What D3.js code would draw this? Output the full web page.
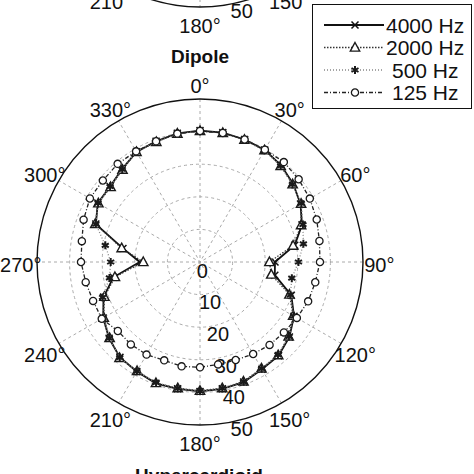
<!DOCTYPE html>
<html>
<head>
<meta charset="UTF-8">
<title>Dipole polar response</title>
<script src="https://cdn.jsdelivr.net/npm/d3@7/dist/d3.min.js"></script>
<style>
  body { margin: 0; background: #fff; }
  text { font-family: "Liberation Sans", Arial, sans-serif; fill: #111; }
</style>
</head>
<body>
<svg id="chart" width="474" height="474"></svg>
<script>
// angles in degrees, clockwise from the top
var angles = [0,10,20,30,40,50,60,70,80,90,100,110,120,130,140,150,160,170,
              180,190,200,210,220,230,240,250,260,270,280,290,300,310,320,330,340,350]
var hz4000 = [40.3,40.3,40.0,39.7,38.7,37.3,35.6,33.3,29.5,23.0,23.3,29.8,33.3,35.8,37.5,38.0,39.2,39.5,
              39.7,39.5,39.6,38.8,38.2,36.4,34.3,31.5,27.0,18.5,24.0,34.0,36.2,36.0,37.2,39.0,39.4,40.1]
var hz2000 = [40.2,40.2,39.9,39.6,38.5,37.1,35.8,33.0,29.0,21.3,22.2,29.2,33.0,35.5,37.3,37.7,39.0,39.3,
              39.5,39.3,39.5,38.6,38.4,36.2,34.1,31.2,26.5,17.4,24.4,34.2,36.0,35.8,37.0,39.0,39.2,40.0]
var hz500  = [40.1,40.2,39.8,39.5,38.5,37.0,35.9,33.6,32.2,30.2,28.6,29.5,33.2,35.6,37.2,37.8,39.1,39.4,
              39.6,39.4,39.4,38.7,38.3,36.3,34.4,31.8,28.2,27.4,29.5,34.0,36.1,36.0,37.1,39.1,39.3,40.0]
var hz125  = [40.2,40.2,40.0,39.8,40.0,39.5,38.9,38.1,37.2,36.8,35.9,35.3,34.3,33.6,33.2,32.6,32.0,31.9,
              32.3,32.5,32.1,32.8,33.0,32.9,34.8,34.9,35.6,36.5,36.8,38.0,39.0,38.9,39.3,39.2,39.4,40.0]
var seriesNames = ["4000 Hz", "2000 Hz", "500 Hz", "125 Hz"]
var radialTicks = [0,10,20,30,40,50]
var angleTicks = [0,30,60,90,120,150,180,210,240,270,300,330]

var svg = d3.select("#chart")
var R = 163
var r = d3.scaleLinear().domain([0, 50]).range([0, R])
var rad = function (deg) { return deg * Math.PI / 180 }
function px(deg, v) { return r(v) * Math.sin(rad(deg)) }
function py(deg, v) { return -r(v) * Math.cos(rad(deg)) }

// grid, outer circle and tick labels; keep() filters labels that would fall off the page
function drawFrame(g, keepAngle, keepRadial) {
  g.selectAll(".ring").data(radialTicks.slice(1, -1)).enter().append("circle")
    .attr("r", function (d) { return r(d) })
    .attr("fill", "none").attr("stroke", "#aaa").attr("stroke-dasharray", "3,3")
  g.selectAll(".spoke").data(angleTicks.slice(0, 6)).enter().append("line")
    .attr("x1", function (d) { return px(d, 50) }).attr("y1", function (d) { return py(d, 50) })
    .attr("x2", function (d) { return px(d + 180, 50) }).attr("y2", function (d) { return py(d + 180, 50) })
    .attr("stroke", "#aaa").attr("stroke-dasharray", "3,3")
  g.append("circle").attr("r", R).attr("fill", "none").attr("stroke", "#111").attr("stroke-width", 1.4)
  g.selectAll(".alab").data(angleTicks.filter(keepAngle)).enter().append("text")
    .attr("x", function (d) { return px(d, 55) })
    .attr("y", function (d) { return py(d, 55) + 3 })
    .attr("text-anchor", "middle").attr("dominant-baseline", "central")
    .style("font-size", "20px")
    .text(function (d) { return d + "\u00b0" })
  g.selectAll(".rlab").data(radialTicks.filter(keepRadial)).enter().append("text")
    .attr("x", function (d) { return px(166, d + 2.8) })
    .attr("y", function (d) { return py(166, d + 2.8) })
    .attr("text-anchor", "middle").attr("dominant-baseline", "central")
    .style("font-size", "20px")
    .text(function (d) { return d })
}

// marker painters
function markX(sel) {
  sel.append("path").attr("d", "M-3.5,-3.5L3.5,3.5M-3.5,3.5L3.5,-3.5")
    .attr("stroke", "#111").attr("stroke-width", 1.5).attr("fill", "none")
}
function markTri(sel) {
  sel.append("path").attr("d", "M0,-5L4.7,3.6L-4.7,3.6Z")
    .attr("stroke", "#1a1a1a").attr("stroke-width", 1.4).attr("fill", "#fff")
}
function markStar(sel) {
  sel.append("path").attr("d", "M0,-4V4M-3.5,-2L3.5,2M-3.5,2L3.5,-2")
    .attr("stroke", "#1a1a1a").attr("stroke-width", 2).attr("fill", "none")
}
function markCircle(sel) {
  sel.append("circle").attr("r", 3.6)
    .attr("stroke", "#1a1a1a").attr("stroke-width", 1.3).attr("fill", "#fff")
}

var series = [
  { name: seriesNames[0], values: hz4000, stroke: "#111", dash: null, width: 1.8, mark: markX },
  { name: seriesNames[1], values: hz2000, stroke: "#333", dash: "1.5,1.5", width: 1.3, mark: markTri },
  { name: seriesNames[2], values: hz500, stroke: "#888", dash: "1,2", width: 1.3, mark: markStar },
  { name: seriesNames[3], values: hz125, stroke: "#222", dash: "4,2,1,2", width: 1.3, mark: markCircle }
]

// remnant of the chart above, cut off by the image edge
drawFrame(svg.append("g").attr("transform", "translate(200,-156)"),
  function (d) { return d >= 150 && d <= 210 },
  function (d) { return d === 50 })
svg.append("text").attr("x", 200).attr("y", 63).attr("text-anchor", "middle")
  .style("font-size", "19px").style("font-weight", "bold").text("Dipole")

var plot = svg.append("g").attr("transform", "translate(200,262)")
drawFrame(plot, function () { return true }, function () { return true })

var line = d3.lineRadial()
  .angle(function (d, i) { return rad(angles[i]) })
  .radius(function (d) { return r(d) })
  .curve(d3.curveLinearClosed)

series.forEach(function (s) {
  plot.append("path").attr("d", line(s.values))
    .attr("fill", "none").attr("stroke", s.stroke).attr("stroke-width", s.width)
    .attr("stroke-dasharray", s.dash)
  var m = plot.selectAll(null).data(s.values).enter().append("g")
    .attr("transform", function (d, i) { return "translate(" + px(angles[i], d) + "," + py(angles[i], d) + ")" })
  s.mark(m)
})

svg.append("text").attr("x", 199).attr("y", 482).attr("text-anchor", "middle")
  .style("font-size", "19px").style("font-weight", "bold").text("Hypercardioid")

// legend
var leg = svg.append("g")
leg.append("rect").attr("x", 312.5).attr("y", 4.5).attr("width", 159).attr("height", 104)
  .attr("fill", "#fff").attr("stroke", "#111").attr("stroke-width", 1)
series.forEach(function (s, i) {
  var y = 25 + i * 22.5
  var item = leg.append("g").attr("transform", "translate(0," + y + ")")
  item.append("line").attr("x1", 324).attr("x2", 384).attr("y1", 0).attr("y2", 0)
    .attr("stroke", s.stroke).attr("stroke-width", s.width).attr("stroke-dasharray", s.dash)
  s.mark(item.append("g").attr("transform", "translate(355,0)"))
  item.append("text").attr("x", s.name.length < 7 ? 392 : 386).attr("y", 0)
    .attr("dominant-baseline", "central").style("font-size", "21px").text(s.name)
})
</script>
</body>
</html>
